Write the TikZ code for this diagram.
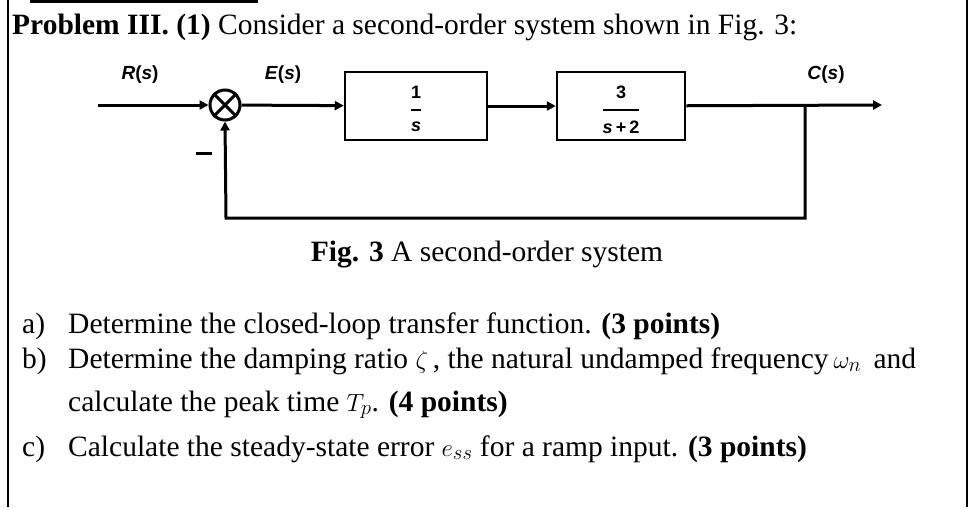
\documentclass[tikz,border=0pt]{standalone}
\usepackage{fontspec}
\setmainfont{Liberation Serif}
\newfontfamily\lab{Liberation Sans}
\usetikzlibrary{arrows.meta}
\begin{document}
\begin{tikzpicture}[x=1pt,y=-1pt,
  line/.style={line width=3pt,-{Triangle[length=9pt,width=9pt]}},
  blk/.style={draw,line width=2.5pt,minimum width=142pt,minimum height=68pt},
  sig/.style={font=\lab\fontsize{19}{19}\selectfont\bfseries},
  frac/.style={font=\lab\fontsize{18}{20}\selectfont\bfseries},
  txt/.style={anchor=base west,font=\fontsize{29.5}{30}\selectfont,inner sep=0pt}]
\useasboundingbox (0,0) rectangle (973,507);
\draw[line width=1.2pt] (8,0) -- (8,507);
\draw[line width=1.2pt] (967,0) -- (967,507);
\draw[line width=3pt] (30,1) -- (258,1);
\node[txt,font=\fontsize{29.5}{30}\selectfont] (title) at (12,34) {\textbf{Problem III. (1)} Consider a second-order system shown in Fig. 3:};
\coordinate (in) at (98,105);
\node[draw,circle,line width=3pt,minimum size=30pt,inner sep=0pt] (sum) at (225,105) {};
\draw[line width=3pt] (sum.north west) -- (sum.south east) (sum.north east) -- (sum.south west);
\node[blk] (g1) at (416,106) {};
\node[frac] (n1) at (416,92) {1};
\node[frac] (d1) at (416,127) {\textit{s}};
\draw[line width=1.5pt] (411,110) -- (421,110);
\node[blk,minimum width=128pt] (g2) at (621,106) {};
\node[frac] (n2) at (621,92) {3};
\node[frac] (d2) at (621,127) {\textit{s}\,+\,2};
\draw[line width=1.5pt] (603,110) -- (639,110);
\coordinate (out) at (882,105);
\coordinate (br) at (805,105);
\draw[line] (in) -- (sum);
\draw[line] (sum) -- (g1);
\draw[line] (g1) -- (g2);
\draw[line] (g2) -- (out);
\draw[line] (br) -- (805,218) -- (226,218) -- (sum.south);
\draw[line width=3pt] (196,153) -- (212,153);
\node[sig] (R) at (140,75) {\textit{R}(\textit{s})};
\node[sig] (E) at (283,75) {\textit{E}(\textit{s})};
\node[sig] (C) at (826,75) {\textit{C}(\textit{s})};
\node[font=\fontsize{29.5}{30}\selectfont] (cap) at (487,255) {\textbf{Fig. 3} A second-order system};
\node[txt] (la) at (22,333) {a)};
\node[txt] (a) at (68,333) {Determine the closed-loop transfer function. \textbf{(3 points)}};
\node[txt] (lb) at (22,368) {b)};
\node[txt] (b) at (68,368) {Determine the damping ratio $\zeta$\,, the natural undamped frequency\,$\omega_n$\, and};
\node[txt] (b2) at (68,411) {calculate the peak time $T_p$. \textbf{(4 points)}};
\node[txt] (lc) at (22,456) {c)};
\node[txt] (c) at (68,456) {Calculate the steady-state error $e_{ss}$ for a ramp input. \textbf{(3 points)}};
\end{tikzpicture}
\end{document}
